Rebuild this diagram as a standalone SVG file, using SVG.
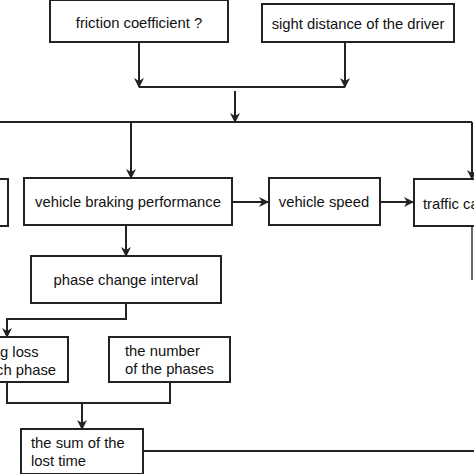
<svg xmlns="http://www.w3.org/2000/svg" width="474" height="474" viewBox="0 0 474 474">
<defs>
<style>
.box{fill:#fff;stroke:#222;stroke-width:2}
.t{font-family:"Liberation Sans",Arial,sans-serif;font-size:14.8px;fill:#111}
.c{text-anchor:middle}
.ln{fill:none;stroke:#222;stroke-width:2}
.arr{marker-end:url(#ah)}
</style>
<marker id="ah" viewBox="0 0 10 10" refX="9" refY="5" markerWidth="5" markerHeight="5" markerUnits="strokeWidth" orient="auto">
<path d="M0,0 L10,5 L0,10 L3,5 z" fill="#222"/>
</marker>
</defs>
<rect width="474" height="474" fill="#fff"/>
<g id="connectors">
<path class="ln arr" d="M139,42 V87"/>
<path class="ln arr" d="M345,42 V87"/>
<path class="ln" d="M139,87 H345"/>
<path class="ln arr" d="M235,91 V122"/>
<path class="ln" d="M0,122 H472"/>
<path class="ln arr" d="M472,122 V179"/>
<path class="ln arr" d="M131,122 V178"/>
<path class="ln arr" d="M232,202 H268"/>
<path class="ln arr" d="M380,202 H413"/>
<path class="ln arr" d="M126,225 V256"/>
<path class="ln arr" d="M126,303 V319 H7 V337"/>
<path class="ln" d="M7,382 V403 H170 V382"/>
<path class="ln arr" d="M82,403 V429"/>
<path class="ln" d="M143,451 H474"/>
<path d="M472,226 V280" fill="none" stroke="#666" stroke-width="2"/>
</g>
<g id="friction">
<rect class="box" x="50" y="0" width="178" height="42"/>
<text class="t c" x="139" y="28">friction coefficient ?</text>
</g>
<g id="sight">
<rect class="box" x="262" y="4" width="192" height="38"/>
<text class="t c" x="358" y="29">sight distance of the driver</text>
</g>
<g id="left-box">
<rect class="box" x="-10" y="179" width="18" height="47"/>
</g>
<g id="braking">
<rect class="box" x="24" y="178" width="208" height="47"/>
<text class="t c" x="128" y="207">vehicle braking performance</text>
</g>
<g id="speed">
<rect class="box" x="269" y="178" width="111" height="47"/>
<text class="t c" x="324" y="207">vehicle speed</text>
</g>
<g id="traffic">
<rect class="box" x="414" y="179" width="80" height="47"/>
<text class="t" x="423" y="209">traffic ca</text>
</g>
<g id="phase-change">
<rect class="box" x="31" y="256" width="190" height="47"/>
<text class="t c" x="126" y="285">phase change interval</text>
</g>
<g id="loss">
<rect class="box" x="-10" y="337" width="78" height="45"/>
<text class="t" x="0" y="357">g loss</text>
<text class="t" x="-4" y="375">ch phase</text>
</g>
<g id="number">
<rect class="box" x="109" y="337" width="121" height="45"/>
<text class="t" x="125" y="356">the number</text>
<text class="t" x="125" y="374">of the phases</text>
</g>
<g id="sum">
<rect class="box" x="21" y="429" width="122" height="45"/>
<text class="t" x="31" y="448">the sum of the</text>
<text class="t" x="31" y="466">lost time</text>
</g>
</svg>
